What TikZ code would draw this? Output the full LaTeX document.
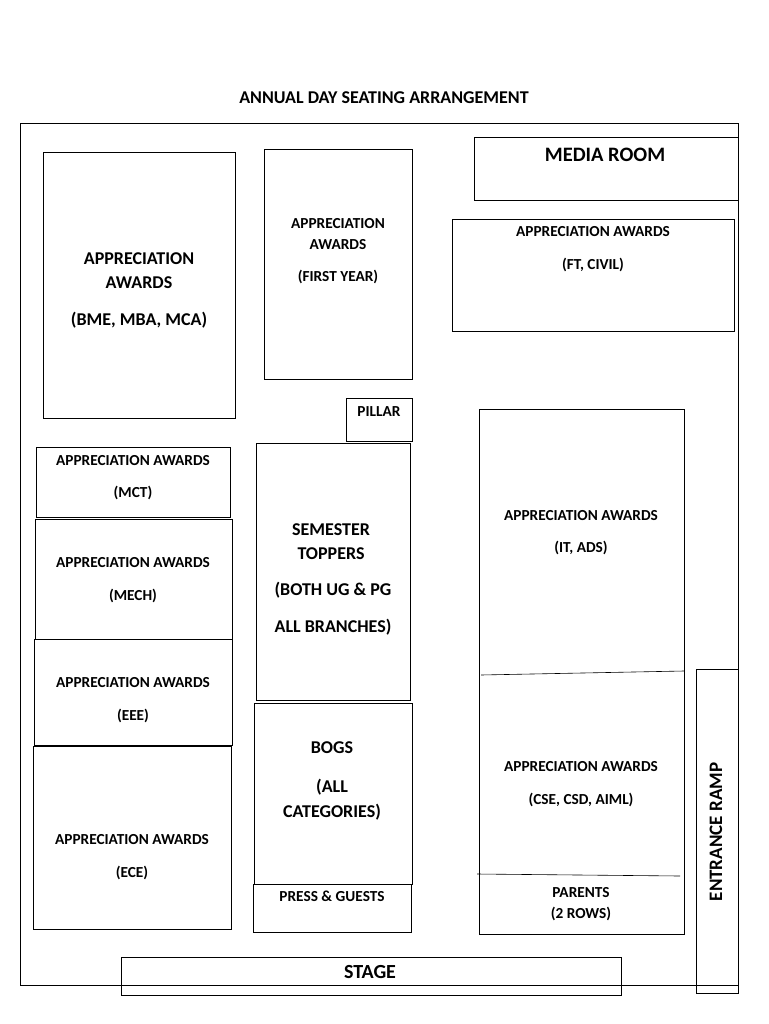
\documentclass[tikz,border=0pt]{standalone}
\usepackage{fontspec}
\setmainfont{Carlito}
\begin{document}
\begin{tikzpicture}[x=1pt,y=-1pt,
  box/.style={draw,line width=0.8pt},
  lab/.style={font=\bfseries\fontsize{15.3}{17}\selectfont,anchor=center,inner sep=0pt},
  big/.style={font=\bfseries\fontsize{18}{20}\selectfont,anchor=center,inner sep=0pt}]
\useasboundingbox (0,0) rectangle (768,1024);
\fill[white] (0,0) rectangle (768,1024);
\node[big] (title) at (384,98) {ANNUAL DAY SEATING ARRANGEMENT};
\draw[box] (20,123) rectangle (738,985);
% left column
\draw[box] (43,152) rectangle (235,418);
\node[big] (bme1) at (139,259) {APPRECIATION};
\node[big] (bme2) at (139,283) {AWARDS};
\node[big] (bme3) at (139,320) {(BME, MBA, MCA)};
\draw[box] (36,447) rectangle (230,517);
\node[lab] (mct1) at (133,461) {APPRECIATION AWARDS};
\node[lab] (mct2) at (133,493) {(MCT)};
\draw[box] (35,519) rectangle (232,639);
\node[lab] (mech1) at (133,563) {APPRECIATION AWARDS};
\node[lab] (mech2) at (133,596) {(MECH)};
\draw[box] (34,639) rectangle (232,745);
\node[lab] (eee1) at (133,683) {APPRECIATION AWARDS};
\node[lab] (eee2) at (133,716) {(EEE)};
\draw[box] (33,746) rectangle (231,929);
\node[lab] (ece1) at (132,840) {APPRECIATION AWARDS};
\node[lab] (ece2) at (132,873) {(ECE)};
% middle column
\draw[box] (264,149) rectangle (412,379);
\node[lab] (fy1) at (338,224) {APPRECIATION};
\node[lab] (fy2) at (338,245) {AWARDS};
\node[lab] (fy3) at (338,277) {(FIRST YEAR)};
\draw[box] (346,398) rectangle (412,441);
\node[lab] (pillar) at (379,412) {PILLAR};
\draw[box] (256,443) rectangle (410,700);
\node[big] (st1) at (331,530) {SEMESTER};
\node[big] (st2) at (331,554) {TOPPERS};
\node[big] (st3) at (333,590) {(BOTH UG \& PG};
\node[big] (st4) at (333,627) {ALL BRANCHES)};
\draw[box] (254,703) rectangle (412,884);
\node[big] (bg1) at (332,748) {BOGS};
\node[big] (bg2) at (332,787) {(ALL};
\node[big] (bg3) at (332,812) {CATEGORIES)};
\draw[box] (253,884) rectangle (411,932);
\node[lab] (press) at (332,896) {PRESS \& GUESTS};
% right
\draw[box] (474,137) rectangle (738,200);
\node[big,font=\bfseries\fontsize{20.5}{22}\selectfont] (media) at (605,155) {MEDIA ROOM};
\draw[box] (452,219) rectangle (734,331);
\node[lab] (ft1) at (593,232) {APPRECIATION AWARDS};
\node[lab] (ft2) at (593,265) {(FT, CIVIL)};
\draw[box] (479,409) rectangle (684,934);
\draw[line width=0.6pt] (481,675) -- (684,671);
\draw[line width=0.6pt] (477,874) -- (680,876);
\node[lab] (it1) at (581,516) {APPRECIATION AWARDS};
\node[lab] (it2) at (581,548) {(IT, ADS)};
\node[lab] (cse1) at (581,767) {APPRECIATION AWARDS};
\node[lab] (cse2) at (581,800) {(CSE, CSD, AIML)};
\node[lab] (par1) at (581,893) {PARENTS};
\node[lab] (par2) at (581,914) {(2 ROWS)};
\draw[box] (696,669) rectangle (738,993);
\node[big,font=\bfseries\fontsize{19}{21}\selectfont,rotate=90] (ramp) at (716,832) {ENTRANCE RAMP};
\draw[box] (121,957) rectangle (621,995);
\node[big,font=\bfseries\fontsize{20}{22}\selectfont] (stage) at (370,972) {STAGE};
\end{tikzpicture}
\end{document}
